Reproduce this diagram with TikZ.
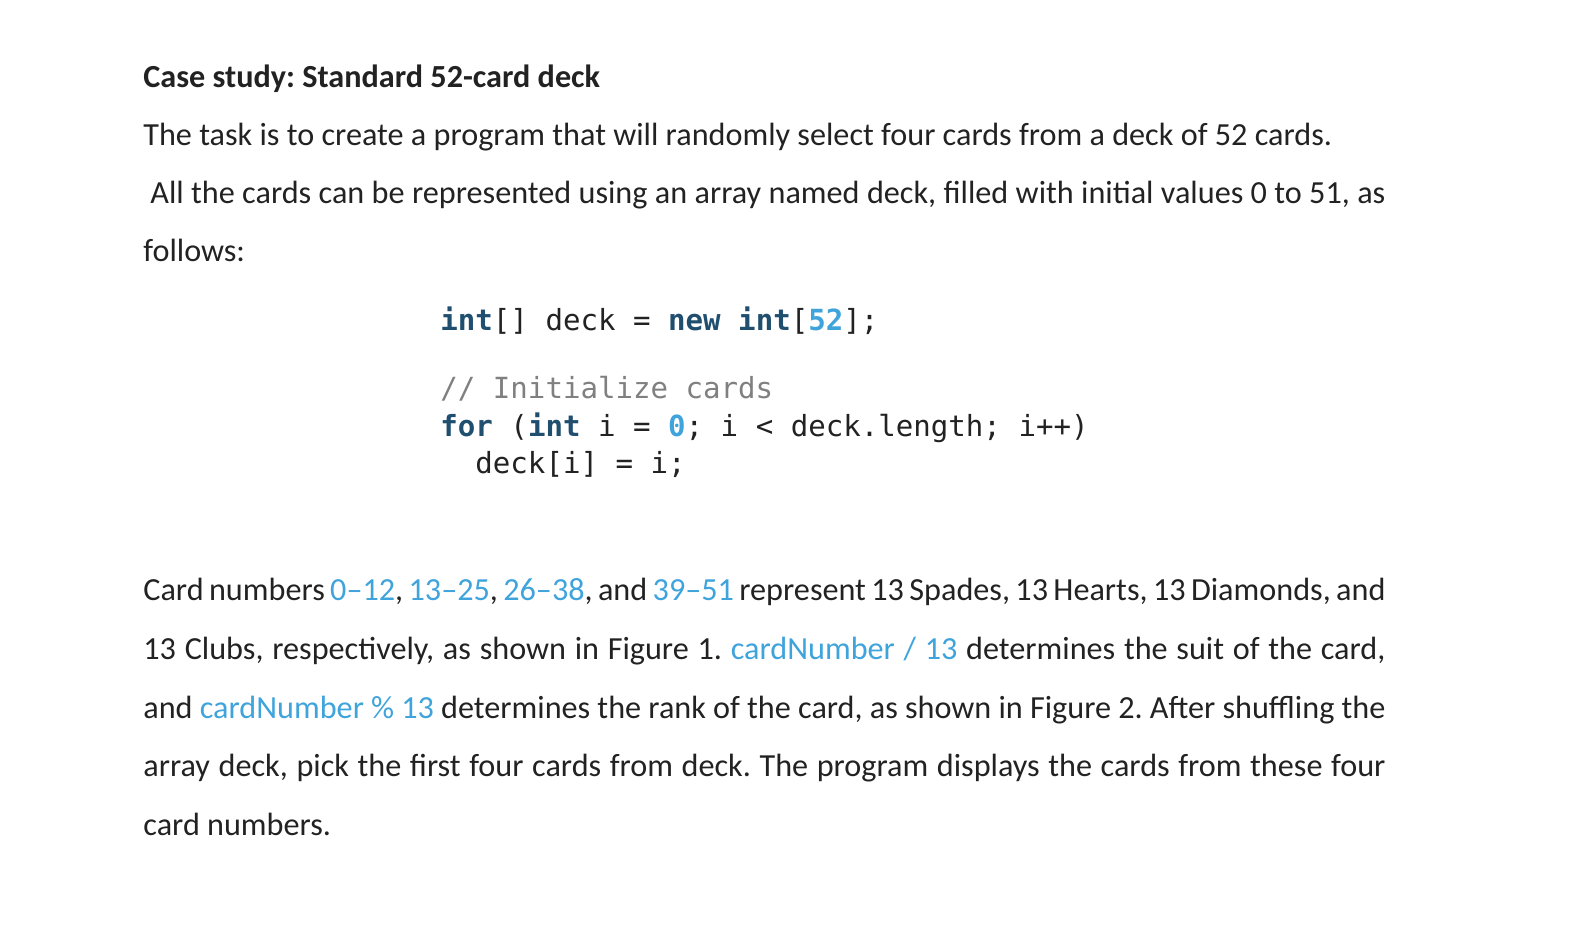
\documentclass[tikz,border=0pt]{standalone}
\usepackage{fontspec}
\setmainfont{Carlito}
\setmonofont{DejaVu Sans Mono}
\definecolor{kw}{HTML}{1F4E6E}
\definecolor{nm}{HTML}{3FA3DC}
\definecolor{cm}{HTML}{808080}
\definecolor{tx}{HTML}{222222}
\newcommand{\bl}[1]{\textcolor{nm}{#1}}
\newcommand{\kwd}[1]{\textcolor{kw}{\bfseries #1}}
\frenchspacing
\begin{document}
\begin{tikzpicture}[x=0.5pt,y=-0.5pt,
  txt/.style={anchor=base west,inner sep=0,text=tx,font=\fontsize{16.1}{18}\selectfont},
  code/.style={anchor=base west,inner sep=0,text=tx,font=\ttfamily\fontsize{14.55}{16}\selectfont}]
\useasboundingbox (0,0) rectangle (1574,933);
\node[txt,font=\bfseries\fontsize{16.1}{18}\selectfont] (t) at (143,87) {Case study: Standard 52-card deck};
\node[txt] (l1) at (143,145) {The task is to create a program that will randomly select four cards from a deck of 52 cards.};
\node[txt] (l2) at (150,203) {\makebox[617.5pt][s]{All the cards can be represented using an array named deck, filled with initial values 0 to 51, as}};
\node[txt] (l3) at (143,261) {follows:};
\node[code] (c1) at (440,330) {\kwd{int}[] deck = \kwd{new} \kwd{int}[\bl{\bfseries 52}];};
\node[code] (c2) at (440,398) {\textcolor{cm}{// Initialize cards}};
\node[code] (c3) at (440,436) {\kwd{for} (\kwd{int} i = \bl{\bfseries 0}; i < deck.length; i++)};
\node[code] (c4) at (440,473) {\ \ deck[i] = i;};
\node[txt] (p1) at (143,600) {\makebox[621pt][s]{Card numbers \bl{0--12}, \bl{13--25}, \bl{26--38}, and \bl{39--51} represent 13 Spades, 13 Hearts, 13 Diamonds, and}};
\node[txt] (p2) at (143,659) {\makebox[621pt][s]{13 Clubs, respectively, as shown in Figure 1. \bl{cardNumber / 13} determines the suit of the card,}};
\node[txt] (p3) at (143,718) {\makebox[621pt][s]{and \bl{cardNumber \% 13} determines the rank of the card, as shown in Figure 2. After shuffling the}};
\node[txt] (p4) at (143,776) {\makebox[621pt][s]{array deck, pick the first four cards from deck. The program displays the cards from these four}};
\node[txt] (p5) at (143,835) {card numbers.};
\end{tikzpicture}
\end{document}
